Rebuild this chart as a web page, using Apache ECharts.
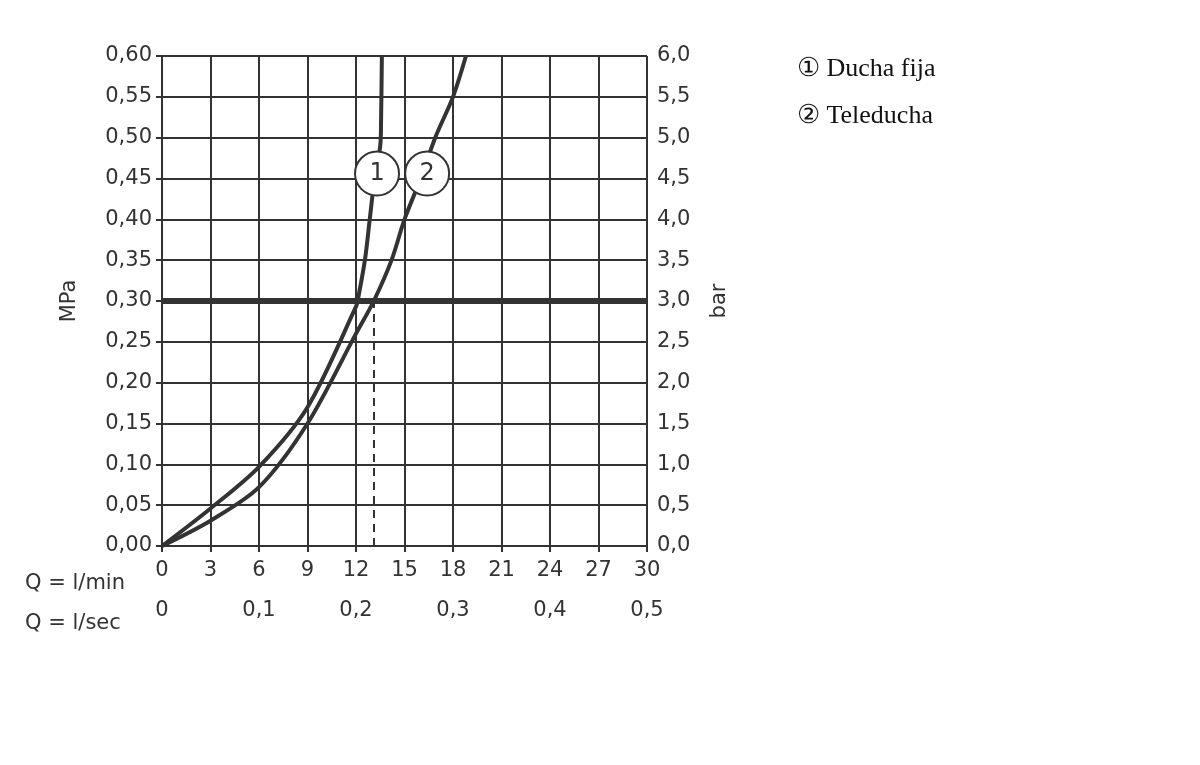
<!DOCTYPE html>
<html><head><meta charset="utf-8">
<script src="https://cdn.jsdelivr.net/npm/echarts@6/dist/echarts.min.js"></script>
<style>body{margin:0;background:#fff}#c{width:1200px;height:765px}</style>
</head><body><div id="c"></div>
<script>
// curva 1: ducha fija, curva 2: teleducha  [l/min, MPa]
var curva1 = [[0,0],[3,0.046],[6,0.097],[9,0.17],[12,0.293],[12.1,0.30],[12.55,0.35],[12.85,0.40],[13.15,0.45],[13.5,0.49],[13.55,0.52],[13.6,0.60]];
var curva2 = [[0,0],[3,0.031],[6,0.072],[9,0.15],[12,0.26],[13.1,0.30],[14.2,0.35],[15.0,0.40],[16.0,0.45],[16.9,0.50],[18.0,0.55],[18.8,0.60]];
var etiquetas = [[13.3,0.456,'1'],[16.4,0.456,'2']];
var caudales = [12, 13.1];  // lineas discontinuas
var presionRef = 0.30;
var leyenda = ['\u2460 Ducha fija', '\u2461 Teleducha'];

var gris = '#333';
var fuente = 'DejaVu Sans';
var mycharts = echarts.init(document.getElementById('c'));
var dashData = caudales.map(function(q){ return [{coord:[q,0]},{coord:[q,presionRef]}]; });
var option = {
    animation:false,
    grid:{left:162,right:553,top:56,bottom:219},
    xAxis:[
        {type:'value',min:0,max:30,interval:3,
         axisLine:{lineStyle:{color:gris,width:2}},
         axisTick:{show:true,length:6,lineStyle:{color:gris,width:2}},
         splitLine:{lineStyle:{color:gris,width:2}},
         axisLabel:{color:gris,fontSize:21,fontFamily:fuente,margin:14}},
        {type:'value',min:0,max:0.5,interval:0.1,position:'bottom',offset:40,
         axisLine:{show:false},axisTick:{show:false},splitLine:{show:false},
         axisLabel:{color:gris,fontSize:21,fontFamily:fuente,margin:14,
            formatter:function(v){return v===0?'0':v.toFixed(1).replace('.',',');}}}
    ],
    yAxis:[
        {type:'value',min:0,max:0.6,interval:0.05,name:'MPa',nameLocation:'middle',nameGap:82,
         nameTextStyle:{color:gris,fontSize:21,fontFamily:fuente},
         axisLine:{show:true,lineStyle:{color:gris,width:2}},
         axisTick:{show:true,length:6,lineStyle:{color:gris,width:2}},
         splitLine:{lineStyle:{color:gris,width:2}},
         axisLabel:{color:gris,fontSize:21,fontFamily:fuente,margin:10,
            formatter:function(v){return v.toFixed(2).replace('.',',');}}},
        {type:'value',min:0,max:6,interval:0.5,name:'bar',nameLocation:'middle',nameGap:62,
         nameTextStyle:{color:gris,fontSize:21,fontFamily:fuente},
         axisLine:{show:true,lineStyle:{color:gris,width:2}},
         axisTick:{show:true,length:6,lineStyle:{color:gris,width:2}},
         splitLine:{show:false},
         axisLabel:{color:gris,fontSize:21,fontFamily:fuente,margin:10,
            formatter:function(v){return v.toFixed(1).replace('.',',');}}}
    ],
    graphic:[
        {type:'text',left:25,top:573,style:{text:'Q = l/min',fill:gris,font:'21px '+fuente}},
        {type:'text',left:25,top:613,style:{text:'Q = l/sec',fill:gris,font:'21px '+fuente}},
        {type:'text',left:797,top:56,style:{text:leyenda[0],fill:'#111',font:'26px "Liberation Serif"'}},
        {type:'text',left:797,top:103,style:{text:leyenda[1],fill:'#111',font:'26px "Liberation Serif"'}}
    ],
    series:[
        {type:'line',data:[],markLine:{silent:true,symbol:'none',label:{show:false},
            lineStyle:{color:gris,width:2,type:[8,6]},data:dashData}},
        {type:'line',data:[[0,presionRef],[30,presionRef]],symbol:'none',
            lineStyle:{color:gris,width:6}},
        {type:'line',data:curva1,smooth:0.3,symbol:'none',lineStyle:{color:gris,width:4}},
        {type:'line',data:curva2,smooth:0.3,symbol:'none',lineStyle:{color:gris,width:4}},
        {type:'scatter',data:etiquetas,symbolSize:44,z:10,
            itemStyle:{color:'#fff',borderColor:gris,borderWidth:2,opacity:1},
            label:{show:true,position:'inside',formatter:function(p){return p.value[2];},
                color:gris,fontSize:24,fontFamily:fuente}}
    ]
};
mycharts.setOption(option);
</script></body></html>
